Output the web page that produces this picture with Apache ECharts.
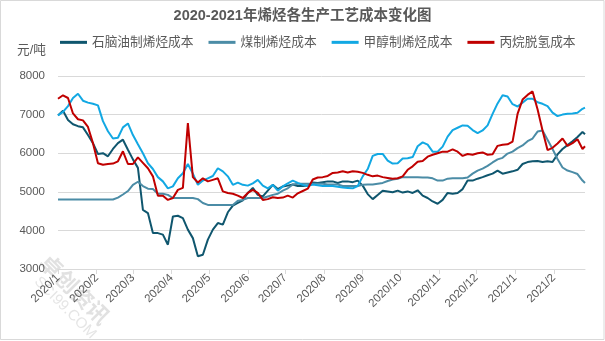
<!DOCTYPE html>
<html><head><meta charset="utf-8">
<script src="https://cdn.jsdelivr.net/npm/echarts@6/dist/echarts.min.js"></script>
<style>html,body{margin:0;padding:0;background:#fff}#c{width:605px;height:341px}</style>
</head><body><div id="c"></div>
<script>
const dates = [
'2020-01-01','2020-01-05','2020-01-09','2020-01-13','2020-01-17','2020-01-21','2020-01-25','2020-01-29',
'2020-02-02','2020-02-06','2020-02-10','2020-02-14','2020-02-18','2020-02-22','2020-02-26',
'2020-03-01','2020-03-05','2020-03-09','2020-03-13','2020-03-17','2020-03-21','2020-03-25','2020-03-29',
'2020-04-02','2020-04-06','2020-04-10','2020-04-14','2020-04-18','2020-04-22','2020-04-26','2020-04-30',
'2020-05-04','2020-05-08','2020-05-12','2020-05-16','2020-05-20','2020-05-24','2020-05-28',
'2020-06-01','2020-06-05','2020-06-09','2020-06-13','2020-06-17','2020-06-21','2020-06-25','2020-06-29',
'2020-07-03','2020-07-07','2020-07-11','2020-07-15','2020-07-19','2020-07-23','2020-07-27','2020-07-31',
'2020-08-04','2020-08-08','2020-08-12','2020-08-16','2020-08-20','2020-08-24','2020-08-28',
'2020-09-01','2020-09-05','2020-09-09','2020-09-13','2020-09-17','2020-09-21','2020-09-25','2020-09-29',
'2020-10-03','2020-10-07','2020-10-11','2020-10-15','2020-10-19','2020-10-23','2020-10-27','2020-10-31',
'2020-11-04','2020-11-08','2020-11-12','2020-11-16','2020-11-20','2020-11-24','2020-11-28',
'2020-12-02','2020-12-06','2020-12-10','2020-12-14','2020-12-18','2020-12-22','2020-12-26','2020-12-30',
'2021-01-03','2021-01-07','2021-01-11','2021-01-15','2021-01-19','2021-01-23','2021-01-27','2021-01-31',
'2021-02-04','2021-02-08','2021-02-12','2021-02-16','2021-02-20','2021-02-24','2021-02-26'
];
const naphtha = [
6980,7100,6860,6750,6700,6670,6470,6260,5980,6000,5920,6110,6260,6350,6090,5840,5620,4530,4450,3930,
3930,3890,3630,4360,4380,4320,4020,3800,3330,3370,3760,4020,4190,4150,4470,4640,4710,4780,4970,5100,
4920,4880,5030,5180,5070,5140,5160,5190,5150,5150,5160,5240,5230,5250,5270,5270,5230,5270,5270,5250,
5290,5160,4940,4810,4920,5030,5010,4990,5030,4980,5010,4970,5040,4900,4840,4750,4690,4790,4970,4950,
4970,5070,5290,5290,5340,5380,5430,5470,5550,5470,5500,5530,5570,5720,5770,5790,5800,5770,5790,5770,
5970,6110,6210,6310,6420,6550,6490
];
const coal = [
4800,4800,4800,4800,4800,4800,4800,4800,4800,4800,4800,4800,4850,4930,5020,5180,5260,5150,5080,5070,
4950,4950,4920,4840,4840,4840,4840,4840,4810,4710,4660,4660,4660,4660,4660,4660,4770,4790,4840,4840,
4840,4840,4880,4920,4950,5030,5090,5190,5210,5210,5210,5210,5210,5210,5190,5190,5190,5150,5150,5150,
5150,5180,5190,5190,5210,5230,5280,5320,5340,5380,5380,5380,5380,5370,5370,5350,5290,5290,5340,5350,
5350,5350,5370,5470,5550,5600,5670,5760,5840,5880,5990,6040,6130,6200,6310,6380,6560,6590,6350,6110,
5850,5630,5550,5510,5460,5290,5230
];
const methanol = [
6980,7070,7220,7430,7540,7360,7310,7280,7240,6830,6570,6380,6400,6670,6770,6470,6230,6000,5740,5590,
5380,5270,5090,5140,5350,5480,5720,5470,5180,5290,5350,5410,5610,5530,5400,5180,5240,5180,5160,5220,
5310,5160,5090,5180,5030,5140,5220,5290,5230,5180,5150,5190,5170,5150,5150,5150,5130,5110,5100,5090,
5150,5400,5590,5930,5980,5980,5810,5730,5740,5860,5870,5900,6180,6280,6220,6040,6040,6170,6430,6600,
6660,6720,6710,6600,6520,6590,6720,7020,7290,7500,7470,7270,7210,7310,7410,7410,7320,7280,7220,7050,
6960,7000,7020,7030,7050,7150,7180
];
const propane = [
7410,7500,7430,7030,6880,6850,6680,6260,5740,5700,5720,5730,5790,6050,5720,5720,5890,5750,5610,5400,
4900,4900,4790,4840,5050,5100,6780,5380,5240,5350,5270,5310,5350,5010,4970,4950,4900,4840,4970,5050,
4970,4790,4810,4860,4840,4850,4900,4850,4960,5020,5080,5320,5370,5380,5410,5490,5500,5530,5500,5530,
5520,5490,5440,5400,5420,5380,5360,5340,5350,5400,5570,5660,5780,5800,5910,5960,6000,6040,6040,6100,
6040,5930,5980,5960,6000,6020,5960,5970,6190,6220,6230,6300,7020,7390,7510,7600,7140,6590,6080,6140,
6250,6380,6190,6260,6360,6110,6180
];
const monthTicks = ['2020-01-01','2020-02-01','2020-03-01','2020-04-01','2020-05-01','2020-06-01','2020-07-01',
'2020-08-01','2020-09-01','2020-10-01','2020-11-01','2020-12-01','2021-01-01','2021-02-01'];
const seriesNames = ['石脑油制烯烃成本','煤制烯烃成本','甲醇制烯烃成本','丙烷脱氢成本'];
const titleText = '2020-2021年烯烃各生产工艺成本变化图';
const unitText = '元/吨';
const startDate = '2020-01-01';
const endDate = '2021-02-26';

function ts(s){ const p = s.split('-').map(Number); return Date.UTC(p[0], p[1]-1, p[2]); }
const DAY = 86400000;
const t0 = ts(startDate);
function dayOf(s){ return Math.round((ts(s) - t0) / DAY); }
function labelOf(day){ const d = new Date(t0 + day * DAY); return d.getUTCFullYear() + '/' + (d.getUTCMonth() + 1); }
const tickDays = monthTicks.map(dayOf);
const colors = ['#0f566e','#4b8ca6','#12a8e3','#c00000'];
const values = [naphtha, coal, methanol, propane];
const FONT = '"Liberation Sans","Noto Sans CJK SC",sans-serif';

const chart = echarts.init(document.getElementById('c'), null, {renderer:'canvas'});
chart.setOption({
  animation:false,
  backgroundColor:'#ffffff',
  color: colors,
  title:{ text:titleText, left:'center', top:4,
    textStyle:{ fontSize:14.5, fontWeight:'bold', color:'#595959', fontFamily:FONT } },
  legend:{ left:60, top:36, padding:0, itemGap:15, itemWidth:27, itemHeight:3, icon:'rect',
    textStyle:{ fontSize:12.7, color:'#595959', fontFamily:FONT },
    data: seriesNames },
  grid:{ left:58, right:20, top:76, bottom:72, containLabel:false },
  xAxis:{ type:'value', min:0, max:dayOf(endDate),
    axisLine:{ show:true, lineStyle:{ color:'#d9d9d9', width:1 } },
    axisTick:{ show:true, length:5, customValues:tickDays, lineStyle:{ color:'#d9d9d9' } },
    splitLine:{ show:false },
    axisLabel:{ customValues:tickDays, rotate:45, margin:7, fontSize:11.5, color:'#595959', fontFamily:FONT,
      formatter:function(v){ return labelOf(v); } } },
  yAxis:{ type:'value', min:3000, max:8000, interval:1000,
    axisLine:{ show:false }, axisTick:{ show:false },
    splitLine:{ lineStyle:{ color:'#d9d9d9', width:1 } },
    axisLabel:{ fontSize:11.5, color:'#595959', margin:13, fontFamily:FONT,
      formatter:function(v){ return String(v); } } },
  graphic:[
    { type:'rect', shape:{ x:0.5, y:0.5, width:603.5, height:339 }, style:{ fill:'none', stroke:'#d9d9d9', lineWidth:1 }, silent:true },
    { type:'text', left:17, top:44, style:{ text:unitText, fontSize:12.7, fill:'#595959', fontFamily:FONT } },
    { type:'text', x:50, y:252, rotation:-Math.PI/4, style:{ text:'卓创资讯', fontSize:22, fontWeight:'bold', fill:'rgba(170,170,170,0.35)', fontFamily:FONT }, silent:true },
    { type:'text', x:42, y:274, rotation:-Math.PI/4, style:{ text:'SCI99.COM', fontSize:15, fill:'rgba(170,170,170,0.3)', fontFamily:FONT }, silent:true }
  ],
  series: seriesNames.map(function(name, i){
    return { name:name, type:'line', symbol:'none', smooth:false,
      lineStyle:{ width:2, color:colors[i] }, itemStyle:{ color:colors[i] },
      data: dates.map(function(d, k){ return [dayOf(d), values[i][k]]; }) };
  })
});
</script>
</body></html>
